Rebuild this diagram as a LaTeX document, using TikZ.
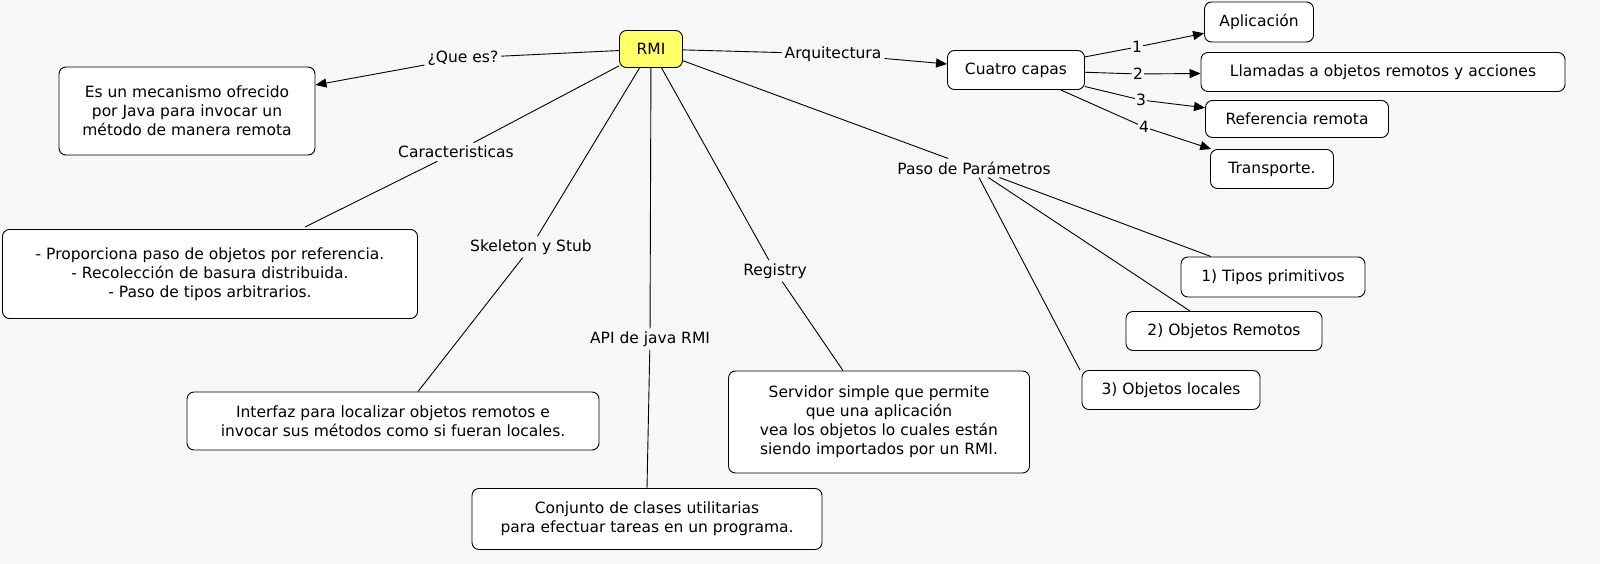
\documentclass[tikz,border=0pt]{standalone}
\usepackage{fontspec}
\setmainfont{DejaVu Sans}
\usetikzlibrary{arrows.meta}
\definecolor{bg}{HTML}{F7F7F7}
\definecolor{rmiyellow}{HTML}{FFFF66}
\begin{document}
\begin{tikzpicture}[x=1pt,y=-1pt,
  every node/.style={font=\fontsize{15.5}{19}\selectfont},
  box/.style={draw=black,fill=white,rounded corners=7pt,align=center,inner sep=2pt,line width=0.9pt},
  lab/.style={fill=bg,inner sep=3pt},
  con/.style={line width=0.9pt},
  arr/.style={line width=0.9pt,-{Triangle[length=11pt,width=9pt]}}]
\fill[bg] (0,0) rectangle (1600,564);
\useasboundingbox (0,0) rectangle (1600,564);
\node[box,fill=rmiyellow,minimum width=63pt,minimum height=37pt] (rmi) at (651,49) {RMI};
\node[lab] (que) at (463,58) {¿Que es?};
\node[box,minimum width=256pt,minimum height=88pt] (mec) at (187,111) {Es un mecanismo ofrecido\\por Java para invocar un\\método de manera remota};
\node[lab] (car) at (456,152) {Caracteristicas};
\node[box,minimum width=415pt,minimum height=89pt] (prop) at (210,274) {- Proporciona paso de objetos por referencia.\\- Recolección de basura distribuida.\\- Paso de tipos arbitrarios.};
\node[lab] (ske) at (531,247) {Skeleton y Stub};
\node[box,minimum width=412pt,minimum height=58pt] (intf) at (393,421) {Interfaz para localizar objetos remotos e\\invocar sus métodos como si fueran locales.};
\node[lab] (api) at (650,339) {API de java RMI};
\node[box,minimum width=350pt,minimum height=61pt] (conj) at (647,519) {Conjunto de clases utilitarias\\para efectuar tareas en un programa.};
\node[lab] (reg) at (775,271) {Registry};
\node[box,minimum width=301pt,minimum height=102pt] (serv) at (879,422) {Servidor simple que permite\\que una aplicación\\vea los objetos lo cuales están\\siendo importados por un RMI.};
\node[lab] (paso) at (974,168) {Paso de Parámetros};
\node[lab] (arq) at (833,54) {Arquitectura};
\node[box,minimum width=137pt,minimum height=39pt] (cuatro) at (1016,70) {Cuatro capas};
\node[box,minimum width=109pt,minimum height=40pt] (apl) at (1259,22) {Aplicación};
\node[box,minimum width=364pt,minimum height=39pt] (llam) at (1383,72) {Llamadas a objetos remotos y acciones};
\node[box,minimum width=183pt,minimum height=37pt] (refr) at (1297,119) {Referencia remota};
\node[box,minimum width=123pt,minimum height=39pt] (trans) at (1272,169) {Transporte.};
\node[box,minimum width=184pt,minimum height=40pt] (tip) at (1273,277) {1) Tipos primitivos};
\node[box,minimum width=196pt,minimum height=39pt] (objr) at (1224,331) {2) Objetos Remotos};
\node[box,minimum width=178pt,minimum height=39pt] (objl) at (1171,390) {3) Objetos locales};
\node[lab,inner sep=1pt] (n1) at (1137,47) {1};
\node[lab,inner sep=1pt] (n2) at (1138,74) {2};
\node[lab,inner sep=1pt] (n3) at (1141,100) {3};
\node[lab,inner sep=1pt] (n4) at (1144,127) {4};
\draw[con] (rmi) -- (que); \draw[arr] (que) -- (mec.north east |- 0,85);
\draw[con] (rmi) -- (car); \draw[con] (car) -- (305,227);
\draw[con] (rmi) -- (ske); \draw[con] (ske) -- (intf.north -| 418,0);
\draw[con] (rmi) -- (api); \draw[con] (api) -- (conj.north -| 647,0);
\draw[con] (rmi) -- (reg); \draw[con] (reg) -- (serv.north -| 843,0);
\draw[con] (rmi) -- (paso);
\draw[con] (paso) -- (tip.north -| 1211,0);
\draw[con] (paso) -- (objr.north -| 1190,0);
\draw[con] (paso) -- (objl.north -| 1080,0);
\draw[con] (rmi) -- (arq); \draw[arr] (arq) -- (cuatro);
\draw[con] (cuatro) -- (n1); \draw[arr] (n1) -- (apl);
\draw[con] (cuatro) -- (n2); \draw[arr] (n2) -- (llam);
\draw[con] (cuatro) -- (n3); \draw[arr] (n3) -- (refr);
\draw[con] (cuatro) -- (n4); \draw[arr] (n4) -- (trans);
\end{tikzpicture}
\end{document}
